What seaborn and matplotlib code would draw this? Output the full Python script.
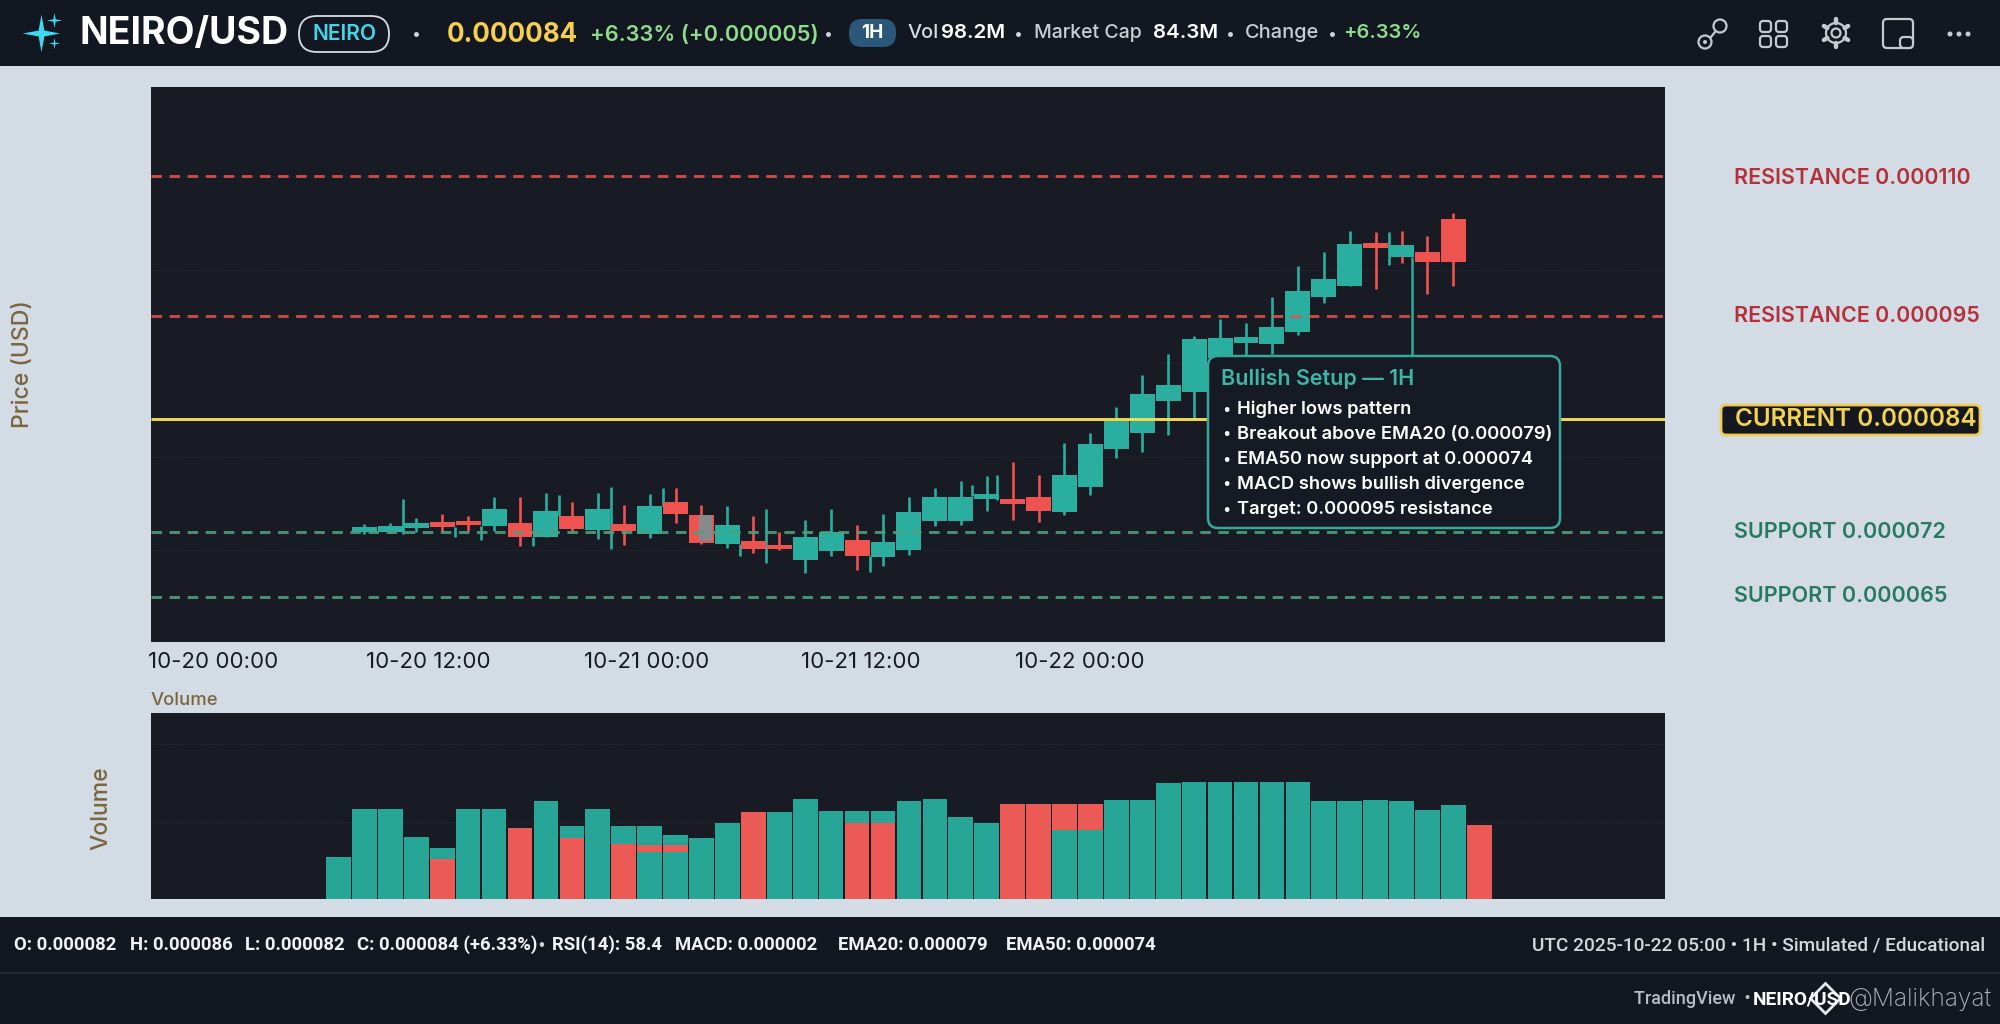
import numpy as np
import pandas as pd
import seaborn as sns
import matplotlib
matplotlib.use("Agg")
import matplotlib.pyplot as plt
from matplotlib.patches import FancyBboxPatch, Rectangle, Circle
from matplotlib.path import Path

# ---------- DATA (prices in millionths of a USD) ----------
candle_pos = list(range(1, 44))
opens = [71.90, 71.90, 72.36, 73.07, 73.15, 72.61, 72.90, 71.40, 73.61, 72.18, 72.83,
         71.76, 75.21, 73.75, 70.65, 71.00, 70.55, 68.98, 69.87, 71.12, 69.26, 70.04,
         73.14, 73.14, 75.46, 75.49, 75.64, 74.07, 76.74, 80.80, 82.58, 86.00, 86.86,
         90.50, 92.13, 92.02, 93.30, 97.11, 98.29, 102.85, 101.31, 101.92, 105.37]
closes = [72.47, 72.61, 72.90, 72.54, 72.68, 74.39, 71.40, 74.21, 72.29, 74.36, 72.08,
          74.75, 73.89, 70.83, 72.65, 70.15, 70.12, 71.37, 71.90, 69.34, 70.87, 74.14,
          75.64, 75.64, 76.03, 74.93, 74.25, 78.06, 81.37, 83.76, 86.68, 87.64, 92.55,
          92.63, 92.77, 93.91, 97.65, 99.00, 102.74, 102.35, 102.63, 100.85, 100.78]
highs = [72.83, 72.90, 73.40, 73.90, 73.68, 75.67, 75.67, 76.17, 75.21, 76.17, 74.86,
         76.03, 76.64, 74.86, 74.78, 73.68, 71.90, 73.25, 74.39, 72.75, 73.89, 75.64,
         76.64, 77.35, 77.95, 79.48, 78.06, 81.51, 82.51, 85.36, 88.74, 90.95, 92.91,
         94.69, 94.33, 97.11, 100.39, 101.92, 104.16, 103.99, 104.16, 103.63, 106.09]
lows = [71.76, 71.80, 71.90, 71.90, 72.11, 72.11, 70.48, 71.40, 71.90, 71.19, 70.58,
        71.29, 72.90, 70.69, 70.23, 69.76, 70.05, 67.56, 69.34, 67.91, 68.27, 69.50,
        72.61, 72.72, 74.25, 73.25, 73.07, 73.79, 75.92, 79.84, 80.45, 82.33, 84.04,
        88.00, 90.88, 91.00, 93.02, 96.40, 98.29, 97.90, 100.74, 97.40, 98.29]
red_wick_pos = [41]  # green body, red wick in the reference

stray_pos = [2.5, 4.5, 5.5, 7.5, 8.5, 10.5, 12.5, 15.5, 16.5, 20.5, 24.42, 25.4, 40.5]
stray_high = [75.46, 72.54, 72.61, 71.40, 75.92, 76.81, 76.64, 70.65, 74.39, 69.34, 76.99, 78.06, 104.06]
stray_low = [71.76, 71.40, 71.12, 70.48, 73.61, 70.12, 74.75, 69.41, 68.69, 67.73, 75.75, 75.39, 100.50]

grey_pos, grey_top, grey_bottom = 14.15, 73.79, 71.0

resistance_levels = [110, 95]
support_levels = [72, 65]
current_level = 84
callout_pos, callout_top, callout_bottom = 41.4, 101.3, 90.9

tick_pos = [-4.84, 3.45, 11.9, 20.15, 28.6]
tick_labels = ["10-20 00:00", "10-20 12:00", "10-21 00:00", "10-21 12:00", "10-22 00:00"]
price_grid = [70, 80, 90, 100, 110]
volume_grid = [65, 130]

# volume (millions): full bar, colour, then the layers printed over it
vol_pos = list(range(45))
vol_main = [35.2, 75.2, 75.2, 52.3, 42.5, 75.8, 75.8, 59.8, 82.0, 61.5, 75.2, 61.5, 61.5, 53.7, 51.5,
            63.5, 73.3, 73.3, 84.2, 74.1, 74.1, 74.1, 82.0, 84.2, 68.5, 64.0, 79.4, 79.4, 79.4, 79.4,
            83.0, 83.0, 97.0, 98.4, 98.4, 98.4, 98.4, 98.4, 82.5, 82.0, 83.3, 82.5, 75.0, 78.6, 62.3]
vol_dir = ["up", "up", "up", "up", "up", "up", "up", "down", "up", "up", "up", "up", "up", "up", "up",
           "up", "down", "up", "up", "up", "up", "up", "up", "up", "up", "up", "down", "down", "down", "down",
           "up", "up", "up", "up", "up", "up", "up", "up", "up", "up", "up", "up", "up", "up", "down"]
layer2_pos = [4, 9, 11, 12, 13, 20, 21, 28, 29]
layer2_vol = [33.3, 51.5, 45.9, 45.3, 45.3, 63.5, 63.5, 58.0, 58.0]
layer2_dir = ["down", "down", "down", "down", "down", "down", "down", "up", "up"]
layer3_pos = [12, 13]
layer3_vol = [39.1, 39.1]
layer3_dir = ["up", "up"]

# ---------- STYLE ----------
GREEN, RED = "#29ae9f", "#ef5350"
VGREEN, VRED = "#27a698", "#ec5a55"
PAGE, BAR, PANEL = "#d3dce5", "#131722", "#181b24"
plt.rcParams["savefig.facecolor"] = PAGE
sns.set_theme(style="dark", rc={"axes.facecolor": PANEL, "figure.facecolor": PAGE})
plt.rcParams["font.family"] = ["Inter", "DejaVu Sans"]
W, H = 2000, 1024
fig = plt.figure(figsize=(W / 100, H / 100), dpi=100, facecolor=PAGE)


def axes_px(l, t, r, b, **kw):
    return fig.add_axes([l / W, 1 - b / H, (r - l) / W, (b - t) / H], **kw)


# Chrome layer in pixel coordinates
bg = axes_px(0, 0, W, H, zorder=0)
bg.set_xlim(0, W); bg.set_ylim(H, 0); bg.axis("off")
bg.add_patch(Rectangle((0, 0), W, 66, color=BAR, lw=0))
bg.add_patch(Rectangle((0, 917), W, H - 917, color=BAR, lw=0))
bg.plot([0, W], [973, 973], color="#252a35", lw=1.5)


def t(x, y, s, size, color="white", weight="normal", ha="left", ax=bg, dy=1.5, **kw):
    return ax.text(x, y + dy, s, fontsize=size * 0.72, color=color, fontweight=weight, ha=ha, va="center", **kw)


# Header
spark = Path.unit_regular_star(4, innerCircle=0.22)
bg.plot([41], [33], marker=spark, ms=27, color="#3fd8ee", mew=0)
bg.plot([54], [20], marker=spark, ms=11, color="#3fd8ee", mew=0)
bg.plot([54], [43], marker=spark, ms=8, color="#3fd8ee", mew=0)
t(79, 32, "NEIRO/USD", 37.5, weight="bold")
bg.add_patch(FancyBboxPatch((299, 16), 90, 36, boxstyle="round,pad=0,rounding_size=18", fc="none", ec="#d8dde3", lw=1.3))
t(344, 33, "NEIRO", 21, color="#45d5e6", ha="center", weight="semibold")
t(416, 33, "•", 16, color="#cfd3da", ha="center")
t(447, 33, "0.000084", 26, color="#f5cf4f", weight="bold")
t(590, 33, "+6.33% (+0.000005)", 21.8, color="#8fdc8c", weight="semibold")
t(829, 33, "•", 16, color="#cfd3da", ha="center")
bg.add_patch(FancyBboxPatch((849, 19), 47, 28, boxstyle="round,pad=0,rounding_size=13", fc="#2b5779", ec="none"))
t(872, 32, "1H", 19, ha="center", weight="bold")
t(907, 32, "Vol", 20, color="#d7dae0", weight="medium")
t(941, 32, "98.2M", 20.5, weight="semibold")
t(1019, 33, "•", 16, color="#cfd3da", ha="center")
t(1034, 32, "Market Cap", 19.5, color="#c9cdd4", weight="medium")
t(1153, 32, "84.3M", 20.5, weight="semibold")
t(1230, 33, "•", 16, color="#cfd3da", ha="center")
t(1245, 32, "Change", 20, color="#c9cdd4", weight="medium")
t(1332, 33, "•", 16, color="#cfd3da", ha="center")
t(1343, 32, "+6.33%", 20, color="#8fdc8c", weight="semibold")

# Header icons
IC = "#c6c9ce"
bg.add_patch(Circle((1720, 26), 6.5, fc="none", ec=IC, lw=1.6))
bg.add_patch(Circle((1705, 42), 6.5, fc="none", ec=IC, lw=1.6))
bg.add_patch(Circle((1705, 42), 2, fc=IC, ec="none"))
bg.plot([1711, 1715], [37, 32], color=IC, lw=1.6)
for ix in (1760, 1776):
    for iy in (21, 36):
        bg.add_patch(FancyBboxPatch((ix, iy), 11, 11, boxstyle="round,pad=0,rounding_size=3", fc="none", ec=IC, lw=1.6))
bg.add_patch(Circle((1836, 33), 4.5, fc="none", ec=IC, lw=1.6))
bg.add_patch(Circle((1836, 33), 10, fc="none", ec=IC, lw=1.6))
for a in np.deg2rad(np.arange(0, 360, 60) + 30):
    bg.plot([1836 + 10 * np.cos(a), 1836 + 14 * np.cos(a)], [33 + 10 * np.sin(a), 33 + 14 * np.sin(a)], color=IC, lw=3.2, solid_capstyle="round")
bg.add_patch(FancyBboxPatch((1883, 19), 30, 29, boxstyle="round,pad=0,rounding_size=4", fc="none", ec=IC, lw=1.6))
bg.add_patch(FancyBboxPatch((1900, 37), 13, 11, boxstyle="round,pad=0,rounding_size=4", fc=BAR, ec=IC, lw=1.6))
for ix in (1950, 1959, 1968):
    bg.add_patch(Circle((ix, 34), 2.5, fc=IC, ec="none"))

# Axis titles and right labels
t(23, 364, "Price (USD)", 23, color="#7b6540", rotation=90, ha="center", weight="medium", dy=0)
t(101, 808, "Volume", 23, color="#7b6540", rotation=90, ha="center", weight="medium", dy=0)
t(151, 699, "Volume", 18.5, color="#7b6540", weight="medium")
t(1734, 176, "RESISTANCE 0.000110", 21.4, color="#b5303a", weight="semibold")
t(1734, 315, "RESISTANCE 0.000095", 21.4, color="#b5303a", weight="semibold")
bg.add_patch(FancyBboxPatch((1721, 405), 259, 30, boxstyle="round,pad=0,rounding_size=5", fc="#15181f", ec="#f0cd55", lw=2))
t(1735, 418, "CURRENT 0.000084", 24.2, color="#f3d452", weight="semibold")
t(1734, 530, "SUPPORT 0.000072", 21.5, color="#27795f", weight="semibold")
t(1734, 594, "SUPPORT 0.000065", 21.5, color="#27795f", weight="semibold")

# Footer
NARROW = ["Roboto", "DejaVu Sans"]
for x, s in [(14, "O: 0.000082"), (130, "H: 0.000086"), (245, "L: 0.000082"), (357, "C: 0.000084 (+6.33%)"),
             (552, "RSI(14): 58.4"), (675, "MACD: 0.000002"), (838, "EMA20: 0.000079"), (1006, "EMA50: 0.000074")]:
    t(x, 945, s, 18.5, color="#f1f2f4", weight="bold", family=NARROW, dy=0)
t(541, 945, "•", 14, color="#cfd3da", ha="center", dy=0)
t(1985, 945, "UTC 2025-10-22 05:00 • 1H • Simulated / Educational", 19, color="#d5d7db", ha="right", weight="medium", family=NARROW, dy=0)
t(1634, 999, "TradingView  •", 18, color="#b9bcc2", weight="medium", family=NARROW, dy=0)
t(1753, 999, "NEIRO/USD", 19, weight="bold", family=NARROW, dy=0)
bg.plot([1825], [998], marker="D", ms=15, mfc="none", mec="#e6e7ea", mew=2)
t(1848, 998, "@Malikhayat", 24.5, color="#d0d2d6", alpha=0.85, weight="light")

# ---------- PRICE PANEL ----------
ax = axes_px(150.5, 87, 1665, 642, zorder=1)
XLIM = (-7.25, 51.16)
candles = pd.DataFrame({"pos": candle_pos, "open": opens, "close": closes, "high": highs, "low": lows})
candles["color"] = np.where(candles["close"] >= candles["open"], GREEN, RED)
candles["wick"] = np.where(candles["pos"].isin(red_wick_pos), RED, candles["color"])
ax.hlines(price_grid, *XLIM, color="#242832", lw=0.8, ls=(0, (1, 1)), zorder=1)
ax.vlines(stray_pos, stray_low, stray_high, color=GREEN, lw=1.9, zorder=2)
ax.vlines(candles["pos"], candles["low"], candles["high"], colors=candles["wick"], lw=1.9, zorder=2)
ax.bar(candles["pos"], (candles["close"] - candles["open"]).abs(), bottom=candles[["open", "close"]].min(axis=1),
       width=0.96, color=candles["color"], lw=0, zorder=3)
ax.bar([grey_pos], [grey_top - grey_bottom], bottom=[grey_bottom], width=0.5, color="#88898d", lw=0, zorder=3)
ax.hlines(resistance_levels, *XLIM, color="#e2574f", alpha=0.85, lw=2.1, ls=(0, (3.6, 2.6)), zorder=4)
ax.hlines(support_levels, *XLIM, color="#4f9f7c", alpha=0.9, lw=2.1, ls=(0, (3.6, 2.6)), zorder=4)
ax.hlines([current_level], *XLIM, color="#f7d94c", lw=2.1, zorder=4)
ax.vlines([callout_pos], callout_bottom, callout_top, color="#35a79b", lw=1.8, zorder=4)
ax.set_xlim(*XLIM)
ax.set_ylim(60.2, 119.5)
ax.set_yticks([])
ax.set_xticks(tick_pos, tick_labels)
ax.tick_params(axis="x", length=0, pad=7.5, labelsize=16, labelcolor="#141a26")
ax.grid(False)
for s in ax.spines.values():
    s.set_visible(False)

# ---------- VOLUME PANEL ----------
vax = axes_px(150.5, 713, 1665, 899, zorder=1)
pal = {"up": VGREEN, "down": VRED}
vax.hlines(volume_grid, *XLIM, color="#272b35", lw=0.8, ls=(0, (1, 1)), zorder=0)
for xs, ys, ds in [(vol_pos, vol_main, vol_dir), (layer2_pos, layer2_vol, layer2_dir), (layer3_pos, layer3_vol, layer3_dir)]:
    frame = pd.DataFrame({"pos": xs, "vol": ys, "dir": ds})
    sns.barplot(data=frame, x="pos", y="vol", hue="dir", palette=pal, native_scale=True, dodge=False,
                width=0.95, saturation=1, legend=False, linewidth=0, ax=vax, zorder=2)
vax.set_xlim(*XLIM)
vax.set_ylim(0, 156)
vax.set_xticks([]); vax.set_yticks([])
vax.set_xlabel(""); vax.set_ylabel("")
vax.grid(False)
for s in vax.spines.values():
    s.set_visible(False)

# ---------- TOOLTIP ----------
fg = axes_px(0, 0, W, H, zorder=5)
fg.set_xlim(0, W); fg.set_ylim(H, 0); fg.axis("off"); fg.patch.set_alpha(0)
fg.add_patch(FancyBboxPatch((1208, 356), 352, 172, boxstyle="round,pad=0,rounding_size=10", fc="#161a24", ec="#35a79b", lw=1.8))
t(1221, 377, "Bullish Setup — 1H", 21.5, color="#3fb5a8", weight="semibold", ax=fg)
lines = ["Higher lows pattern", "Breakout above EMA20 (0.000079)", "EMA50 now support at 0.000074",
         "MACD shows bullish divergence", "Target: 0.000095 resistance"]
for yy, s in zip((408, 433, 458, 483, 508), lines):
    t(1226, yy, "•", 15, ax=fg, ha="center")
    t(1237, yy, s, 18.4, weight="semibold", ax=fg)

fig.savefig("out.png", dpi=100, facecolor=PAGE)
